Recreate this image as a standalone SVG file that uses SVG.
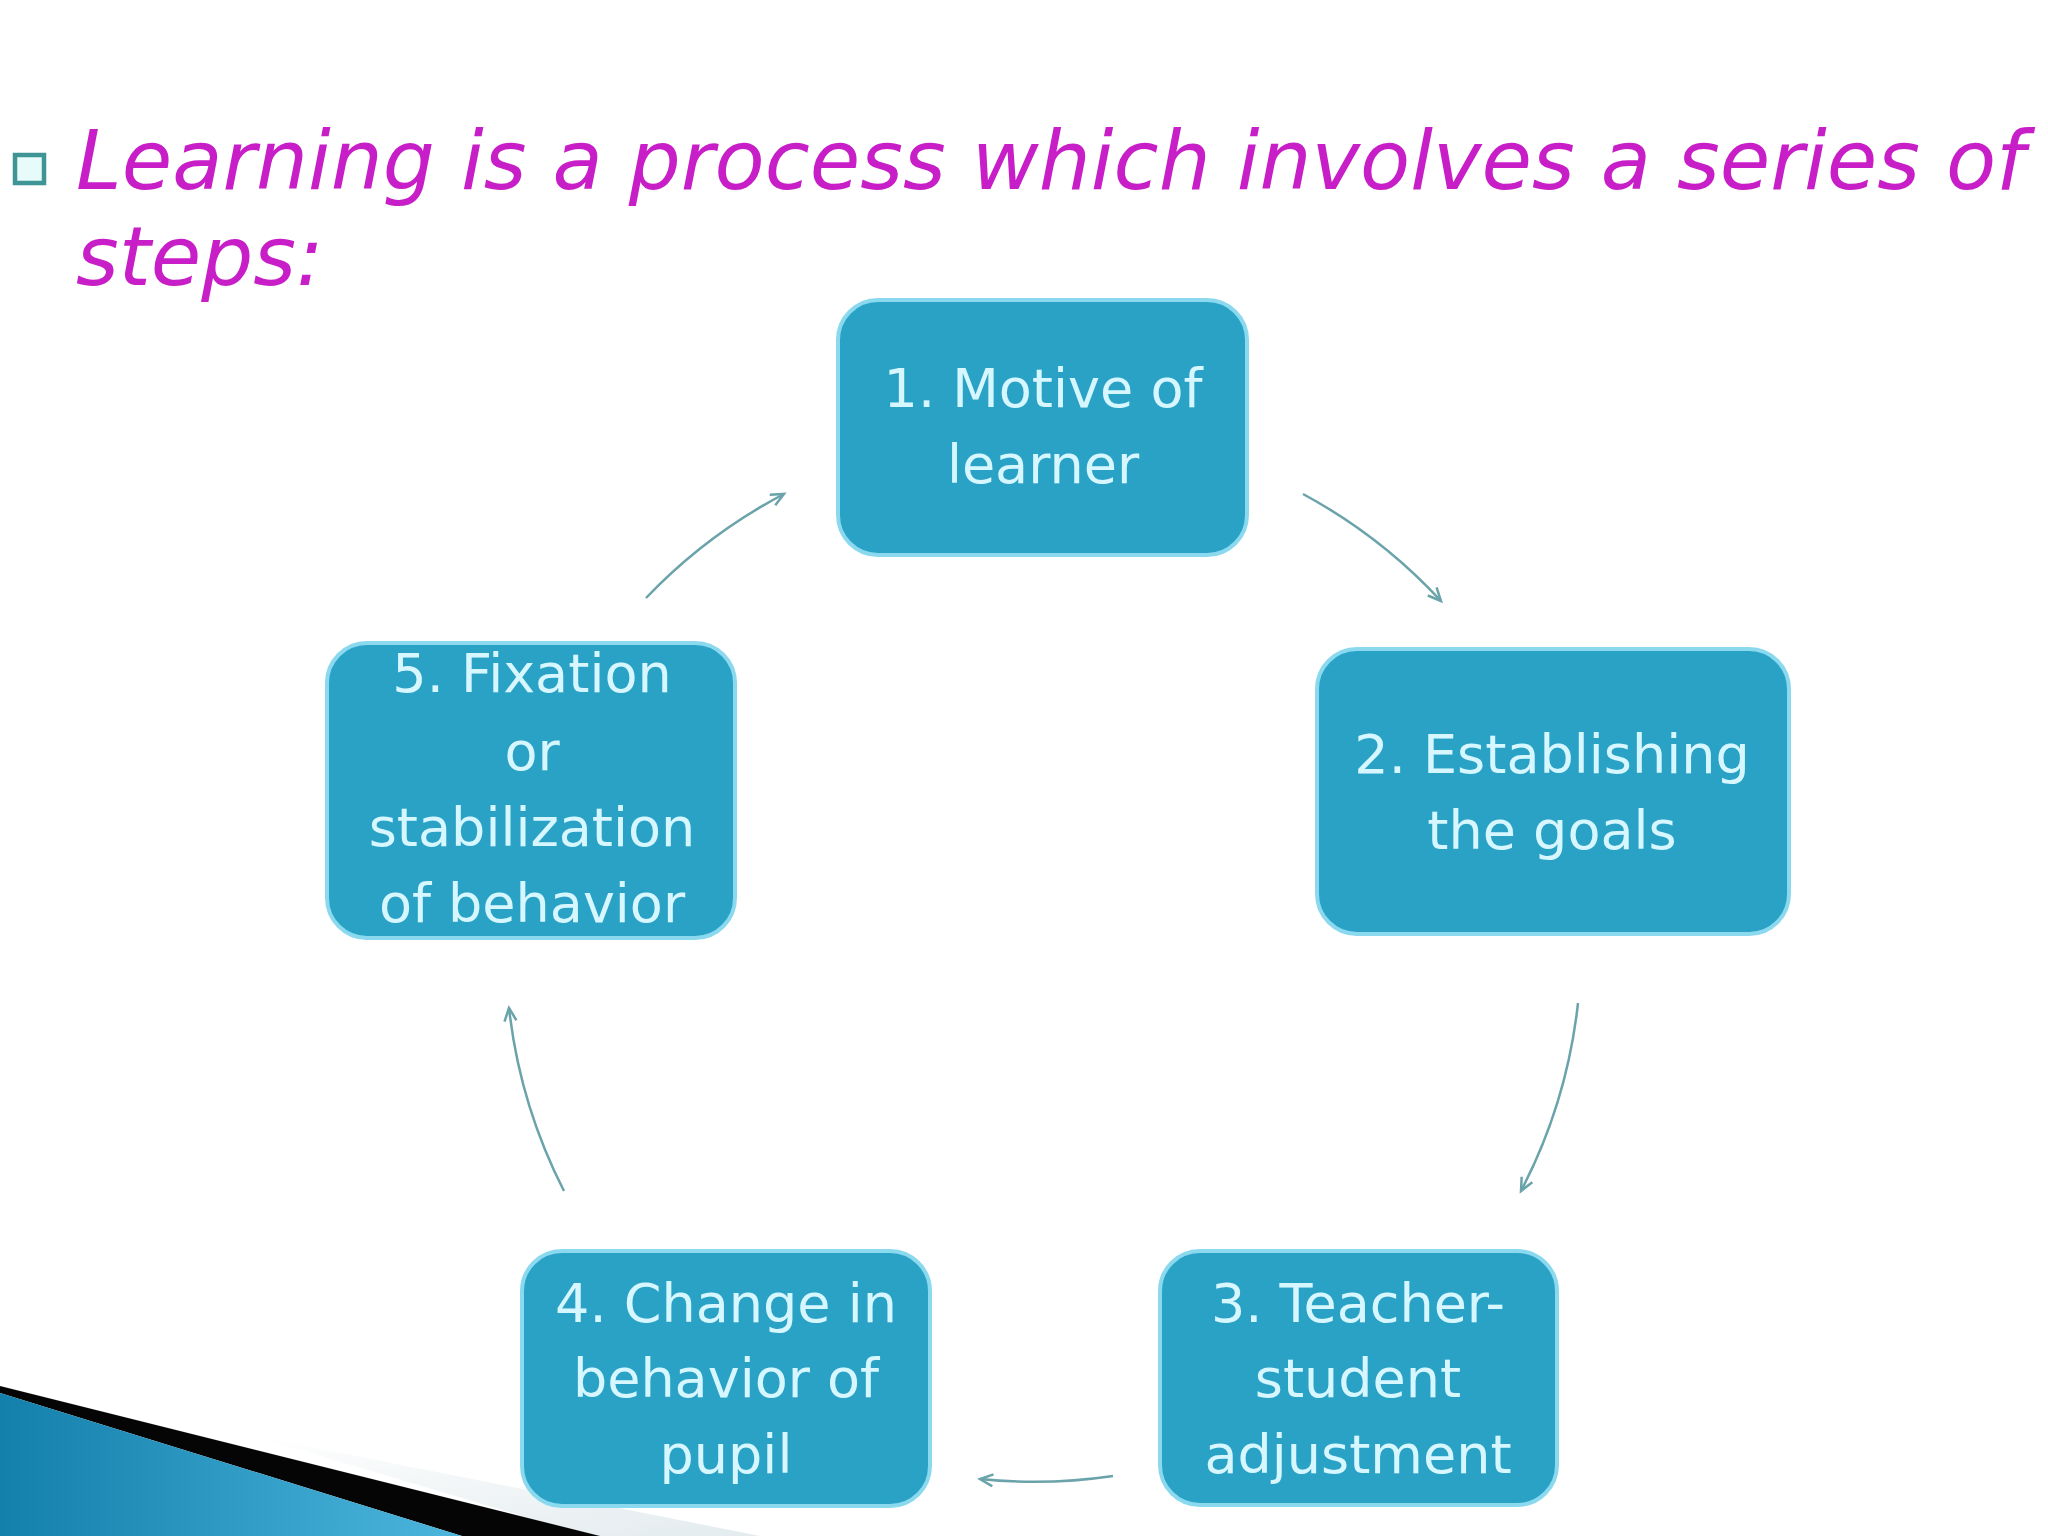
<svg xmlns="http://www.w3.org/2000/svg" width="2048" height="1536" viewBox="0 0 2048 1536">
<defs>
<style>
.box{fill:#2aa2c6;stroke:#8ad9ef;stroke-width:4}
.lbl{font-family:"DejaVu Sans","Verdana",sans-serif;font-size:54px;fill:#d6f7ff;text-anchor:middle}
.title{font-family:"DejaVu Sans",sans-serif;font-style:italic;font-size:82px;fill:#c81ec8}
.arr{fill:none;stroke:#6aa3aa;stroke-width:2.5;marker-end:url(#ah)}
</style>
<marker id="ah" markerWidth="20" markerHeight="20" refX="14" refY="7" orient="auto" markerUnits="userSpaceOnUse">
<path d="M1,1 L14,7 L1,13" fill="none" stroke="#6aa3aa" stroke-width="2.5"/>
</marker>
<linearGradient id="blue" x1="0" y1="0" x2="1" y2="0">
<stop offset="0" stop-color="#137fab"/>
<stop offset="1" stop-color="#4cb6dd"/>
</linearGradient>
<linearGradient id="gray" x1="0" y1="0" x2="1" y2="1">
<stop offset="0" stop-color="#ffffff"/>
<stop offset="1" stop-color="#e3ebee"/>
</linearGradient>
</defs>
<rect width="2048" height="1536" fill="#ffffff"/>

<g id="decoration">
<polygon points="250,1435 760,1536 590,1536" fill="url(#gray)"/>
<polygon points="0,1386 600,1536 462,1536 0,1393" fill="#050505"/>
<polygon points="0,1393 462,1536 0,1536" fill="url(#blue)"/>
</g>

<g id="title">
<rect x="15" y="155" width="29" height="28" fill="#e8fbfb" stroke="#3f9595" stroke-width="4.5"/>
<text class="title" x="76" y="189">Learning is a process which involves a series of</text>
<text class="title" x="76" y="285">steps:</text>
</g>

<g id="connectors">
<path class="arr" d="M646,598 A532,532 0 0 1 784,494"/>
<path class="arr" d="M1303,494 A532,532 0 0 1 1441,601"/>
<path class="arr" d="M1578,1003 A532,532 0 0 1 1521,1191"/>
<path class="arr" d="M1113,1476 A532,532 0 0 1 980,1479"/>
<path class="arr" d="M564,1191 A532,532 0 0 1 509,1008"/>
</g>

<g id="node1">
<rect class="box" x="838" y="300" width="409" height="255" rx="40"/>
<text class="lbl" x="1043" y="407">1. Motive of</text>
<text class="lbl" x="1043" y="483">learner</text>
</g>
<g id="node2">
<rect class="box" x="1317" y="649" width="472" height="285" rx="40"/>
<text class="lbl" x="1552" y="773">2. Establishing</text>
<text class="lbl" x="1552" y="849">the goals</text>
</g>
<g id="node3">
<rect class="box" x="1160" y="1251" width="397" height="254" rx="40"/>
<text class="lbl" x="1358" y="1322">3. Teacher-</text>
<text class="lbl" x="1358" y="1397">student</text>
<text class="lbl" x="1358" y="1473">adjustment</text>
</g>
<g id="node4">
<rect class="box" x="522" y="1251" width="408" height="255" rx="40"/>
<text class="lbl" x="726" y="1322">4. Change in</text>
<text class="lbl" x="726" y="1397">behavior of</text>
<text class="lbl" x="726" y="1473">pupil</text>
</g>
<g id="node5">
<rect class="box" x="327" y="643" width="408" height="295" rx="40"/>
<text class="lbl" x="532" y="692">5. Fixation</text>
<text class="lbl" x="532" y="770">or</text>
<text class="lbl" x="532" y="846">stabilization</text>
<text class="lbl" x="532" y="922">of behavior</text>
</g>
</svg>
